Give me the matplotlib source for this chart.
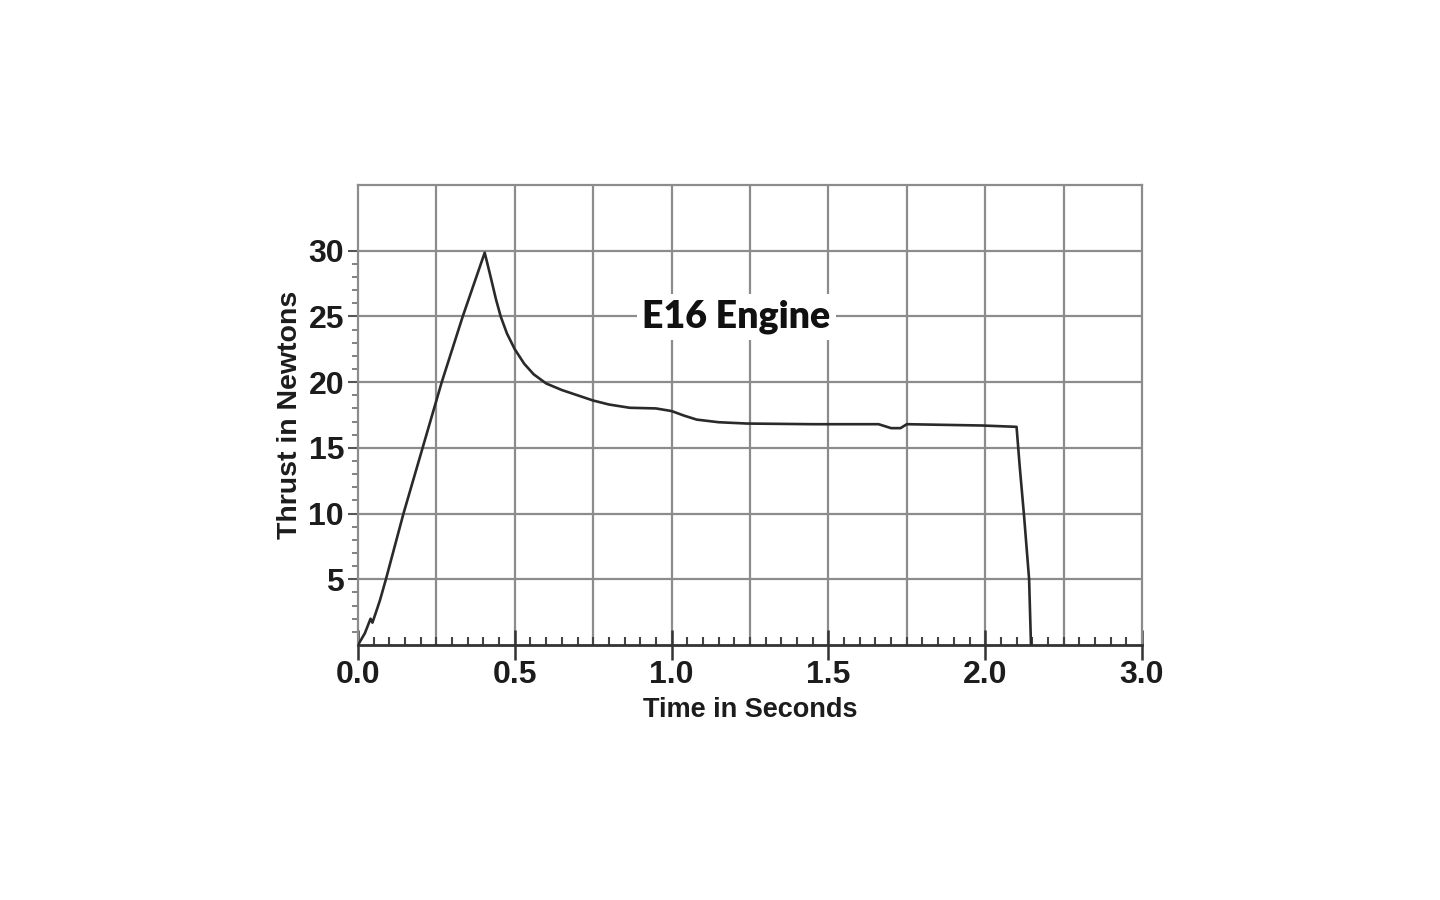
import matplotlib
matplotlib.use("Agg")
import matplotlib.pyplot as plt
from matplotlib.ticker import MultipleLocator, FixedLocator
import numpy as np

# ---- data ----
time_s = [0.0, 0.022, 0.040, 0.046, 0.056, 0.070, 0.089, 0.145, 0.206, 0.267,
          0.334, 0.404, 0.420, 0.440, 0.455, 0.475, 0.500, 0.530, 0.560, 0.600,
          0.650, 0.700, 0.750, 0.800, 0.866, 0.950, 1.000, 1.040, 1.080, 1.150,
          1.240, 1.450, 1.660, 1.700, 1.730, 1.750, 1.990, 2.100, 2.110, 2.124,
          2.140, 2.146]
thrust_n = [0.0, 0.9, 2.0, 1.7, 2.4, 3.4, 5.0, 10.0, 15.0, 20.0,
            25.0, 29.85, 28.3, 26.3, 25.0, 23.7, 22.5, 21.4, 20.6, 19.9,
            19.4, 19.0, 18.6, 18.3, 18.05, 18.0, 17.8, 17.45, 17.15, 16.95,
            16.85, 16.8, 16.8, 16.5, 16.5, 16.8, 16.7, 16.6, 13.6, 9.8,
            5.0, 0.0]
x_tick_pos = [0.0, 0.5, 1.0, 1.5, 2.0, 2.5]
x_tick_labels = ["0.0", "0.5", "1.0", "1.5", "2.0", "3.0"]
y_tick_pos = [5, 10, 15, 20, 25, 30]
y_tick_labels = ["5", "10", "15", "20", "25", "30"]
title = "E16 Engine"
x_label = "Time in Seconds"
y_label = "Thrust in Newtons"

GRID = "#8c8c8c"
INK = "#1c1c1c"

fig = plt.figure(figsize=(14.4, 9), dpi=100)
ax = fig.add_axes([358/1440, 1-645/900, (1142-358)/1440, (645-185)/900])
ax.set_xlim(0, 2.5)
ax.set_ylim(0, 35)

# grid
for xv in np.arange(0.25, 2.5, 0.25):
    ax.axvline(xv, color=GRID, lw=1.6, zorder=1)
for yv in y_tick_pos:
    ax.axhline(yv, color=GRID, lw=1.6, zorder=1)

for s in ["left", "top", "right"]:
    ax.spines[s].set_color(GRID)
    ax.spines[s].set_linewidth(1.6)
ax.spines["bottom"].set_color("#333333")
ax.spines["bottom"].set_linewidth(2.0)

ax.plot(time_s, thrust_n, color="#2a2a2a", lw=1.9, zorder=3,
        solid_joinstyle="round")

# ticks
ax.xaxis.set_major_locator(FixedLocator(x_tick_pos))
ax.set_xticklabels(x_tick_labels)
ax.xaxis.set_minor_locator(MultipleLocator(0.05))
ax.tick_params(axis="x", which="major", direction="inout", length=22, width=1.8,
               color="#333333", pad=0)
ax.tick_params(axis="x", which="minor", direction="in", length=6, width=1.5,
               color="#444444")
ax.yaxis.set_major_locator(FixedLocator(y_tick_pos))
ax.set_yticklabels(y_tick_labels)
ax.yaxis.set_minor_locator(FixedLocator(list(range(1, 30))))
ax.tick_params(axis="y", which="major", direction="out", length=7, width=1.5,
               color="#555555", pad=3)
ax.tick_params(axis="y", which="minor", direction="out", length=4, width=1.3,
               color="#777777")

for lab in ax.get_xticklabels() + ax.get_yticklabels():
    lab.set_fontfamily("Liberation Sans")
    lab.set_fontweight("bold")
    lab.set_fontsize(23)
    lab.set_color(INK)

ax.set_xlabel(x_label, fontfamily="Liberation Sans", fontweight="bold",
              fontsize=19.5, color=INK, labelpad=5)
ax.set_ylabel(y_label, fontfamily="Liberation Sans", fontweight="bold",
              fontsize=20.5, color=INK, labelpad=4)

ax.text(1.207, 24.95, title, ha="center", va="center", fontfamily="Lato",
        fontweight="heavy", fontsize=27, color="#111111", zorder=4,
        bbox=dict(boxstyle="square,pad=0.15", fc="white", ec="none"))

fig.savefig("out.png", dpi=100, facecolor="white")
